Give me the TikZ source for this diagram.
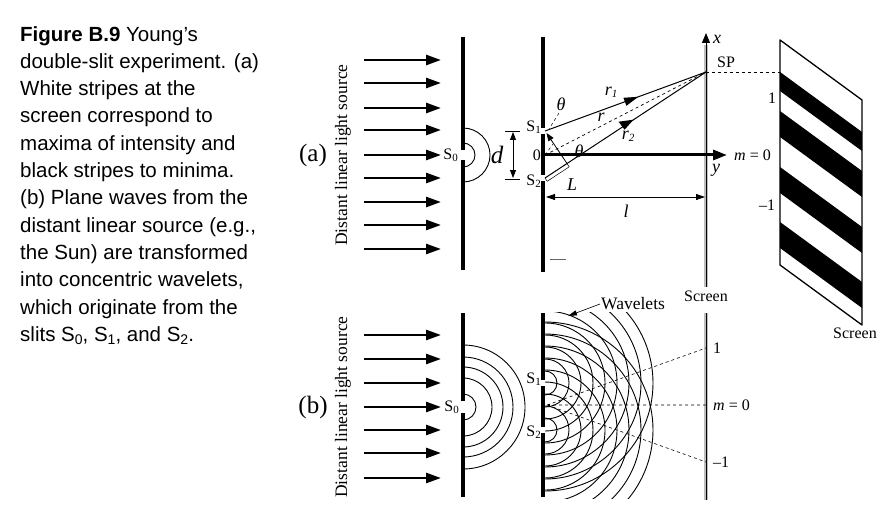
\documentclass[tikz,border=0pt]{standalone}
\usepackage{fontspec}
\setmainfont{Liberation Serif}
\newfontfamily\capfont{Liberation Sans}
\usetikzlibrary{arrows.meta,calc}
\newcommand{\sub}[1]{\raisebox{-0.3ex}{\fontsize{11}{11}\selectfont #1}}
\newcommand{\csub}[1]{\raisebox{-0.3ex}{\fontsize{14}{14}\selectfont #1}}
\begin{document}
\begin{tikzpicture}[x=1pt,y=-1pt,
  src/.style={line width=2.6pt,-{Triangle[length=15pt,width=10pt]}},
  barrier/.style={line width=3.6pt},
  scr/.style={line width=4.5pt,black!25},
  scrc/.style={line width=1pt},
  arc/.style={line width=0.9pt},
  lbl/.style={font=\fontsize{16}{16}\selectfont,inner sep=1pt},
  ilbl/.style={font=\itshape\fontsize{18}{18}\selectfont,inner sep=1pt},
  captext/.style={font=\capfont\fontsize{20.5}{27.3}\selectfont,align=left,anchor=north west,inner sep=0pt}]
\useasboundingbox (0,0) rectangle (890,505);
% caption
\node[captext] (caption) at (20,26) {\textbf{Figure B.9} Young’s\\double-slit experiment. (a)\\White stripes at the\\screen correspond to\\maxima of intensity and\\black stripes to minima.\\(b) Plane waves from the\\distant linear source (e.g.,\\the Sun) are transformed\\into concentric wavelets,\\which originate from the\\slits S\csub{0}, S\csub{1}, and S\csub{2}.};
% ===== (a)
\node[font=\fontsize{25}{25}\selectfont] (la) at (313,155) {(a)};
\node[rotate=90,font=\fontsize{17.5}{17.5}\selectfont] (srca) at (343,155) {Distant linear light source};
\foreach \y in {60,83,108,130,155,178,202,225,249}
  \draw[src] (364,\y) -- (441,\y);
\draw[barrier] (463,37) -- (463,150) (463,160) -- (463,270);
\draw[arc] (463,143) arc[start angle=90,end angle=-90,radius=12pt];
\draw[arc] (463,128) arc[start angle=90,end angle=-90,radius=27pt];
\node[lbl,anchor=east] (s0a) at (459,155) {S\sub{0}};
\draw[barrier] (543,37) -- (543,128) (543,134) -- (543,175) (543,181) -- (543,272);
\draw[line width=0.6pt,black!60] (550,259) -- (566,259);
\coordinate (S1) at (545,131);
\coordinate (S2) at (545,178);
\coordinate (O) at (545,155);
\coordinate (SP) at (706,72);
\node[lbl,anchor=east] (s1a) at (542,127) {S\sub{1}};
\node[lbl,anchor=east] (s2a) at (542,181) {S\sub{2}};
\node[lbl,anchor=east] (oa) at (542,155) {0};
\draw[line width=0.8pt,{Triangle[length=8pt,width=6pt]}-{Triangle[length=8pt,width=6pt]}] (513,132) -- (513,178);
\draw[line width=0.5pt] (505,131) -- (520,131) (505,179) -- (520,179);
\node[font=\itshape\fontsize{25}{25}\selectfont] (d) at (497,155) {d};
% screen a
\draw[scr] (706,45) -- (706,287);
\draw[scrc,-{Triangle[length=10pt,width=8pt]}] (706,287) -- (706,33);
\node[ilbl] (xl) at (717,39) {x};
\node[lbl] (spl) at (726,62) {SP};
\node[ilbl] (yl) at (716,170) {y};
\node[lbl] (scra) at (706,296) {Screen};
\draw[line width=3pt,-{Triangle[length=14pt,width=10pt]}] (O) -- (727,155);
\node[lbl,anchor=west] (m0a) at (733,155) {\textit{m} = 0};
% rays
\draw[line width=1pt] (S1) -- (SP);
\draw[line width=1pt] (S2) -- (SP);
\draw[line width=0.7pt,dashed] (O) -- (SP);
\fill ($(S1)!0.58!(SP)$) -- ++(-15,1) -- ++(3,8) -- cycle;
\fill ($(S2)!0.55!(SP)$) -- ++(-15,2) -- ++(6,8) -- cycle;
\draw[line width=0.8pt,-{Triangle[length=8pt,width=6pt]}] (567,163.5) -- (546.5,133);
\draw[line width=0.5pt] (S2) -- ++(2.2,3.3) -- (569.2,166.8) -- (567,163.5);
\draw[line width=0.5pt,dashed] (559,113) -- (549,129);
\draw[line width=0.5pt,dashed] (O) -- (553,144);
\node[ilbl] (th1) at (561,104) {θ};
\node[ilbl] (th2) at (579,151) {θ};
\node[ilbl] (Ll) at (572,185) {L};
\node[ilbl] (r1l) at (611,92) {r\sub{1}};
\node[ilbl] (rl) at (601,117) {r};
\node[ilbl] (r2l) at (628,136) {r\sub{2}};
\draw[line width=0.8pt,{Triangle[length=9pt,width=6pt]}-{Triangle[length=9pt,width=6pt]}] (546,197) -- (705,197);
\node[ilbl] (ll) at (626,211) {l};
% stripe screen
\draw[dashed,line width=0.6pt] (SP) -- (780,72);
\begin{scope}
\clip (780,40) -- (862,100) -- (862,325) -- (780,265) -- cycle;
\foreach \a/\w in {72/19,111/26,167/26,222/26}
  \fill (780,\a) -- (862,\a+60) -- (862,\a+\w+60) -- (780,\a+\w) -- cycle;
\end{scope}
\draw[line width=1.3pt,line join=round] (780,40) -- (862,100) -- (862,325) -- (780,265) -- cycle;
\node[lbl] (one) at (772,98) {1};
\node[lbl] (mone) at (767,205) {–1};
\node[lbl] (scrb2) at (855,333) {Screen};
% ===== (b)
\node[font=\fontsize{25}{25}\selectfont] (lb) at (313,407) {(b)};
\node[rotate=90,font=\fontsize{17.5}{17.5}\selectfont] (srcb) at (343,407) {Distant linear light source};
\foreach \y in {335,359,383,407,430,453,478}
  \draw[src] (364,\y) -- (441,\y);
\draw[barrier] (463,313) -- (463,401) (463,413) -- (463,497);
\foreach \r in {13,29,40,50,62}
  \draw[arc] (463,407-\r) arc[start angle=90,end angle=-90,radius=\r pt];
\node[lbl,anchor=east] (s0b) at (460,407) {S\sub{0}};
\begin{scope}
\clip (543,312) rectangle (720,498);
\foreach \r in {12,24,36,48,60,72,84,96,108}{
  \draw[arc] (545,383-\r) arc[start angle=90,end angle=-90,radius=\r pt];
  \draw[arc] (545,430-\r) arc[start angle=90,end angle=-90,radius=\r pt];}
\end{scope}
\draw[barrier] (543,313) -- (543,380) (543,386) -- (543,427) (543,433) -- (543,497);
\node[lbl,anchor=east] (s1b) at (542,379) {S\sub{1}};
\node[lbl,anchor=east] (s2b) at (542,432) {S\sub{2}};
\coordinate (Ob) at (547,405);
\draw[scr] (706,313) -- (706,500);
\draw[scrc] (706,313) -- (706,500);
\coordinate (P1) at (706,348);
\coordinate (P0) at (706,405);
\coordinate (Pm) at (706,462);
\draw[dashed,line width=0.6pt] (Ob) -- (P1) (Ob) -- (P0) (Ob) -- (Pm);
\node[lbl,anchor=west] (b1) at (712,348) {1};
\node[lbl,anchor=west] (b0) at (712,405) {\textit{m} = 0};
\node[lbl,anchor=west] (bm) at (712,462) {–1};
\node[font=\fontsize{17.5}{17.5}\selectfont,anchor=west,inner sep=1pt] (wav) at (600,304) {Wavelets};
\draw[line width=0.6pt,-{Triangle[length=9pt,width=5pt]}] (wav.west) -- (568,316);
\end{tikzpicture}
\end{document}
